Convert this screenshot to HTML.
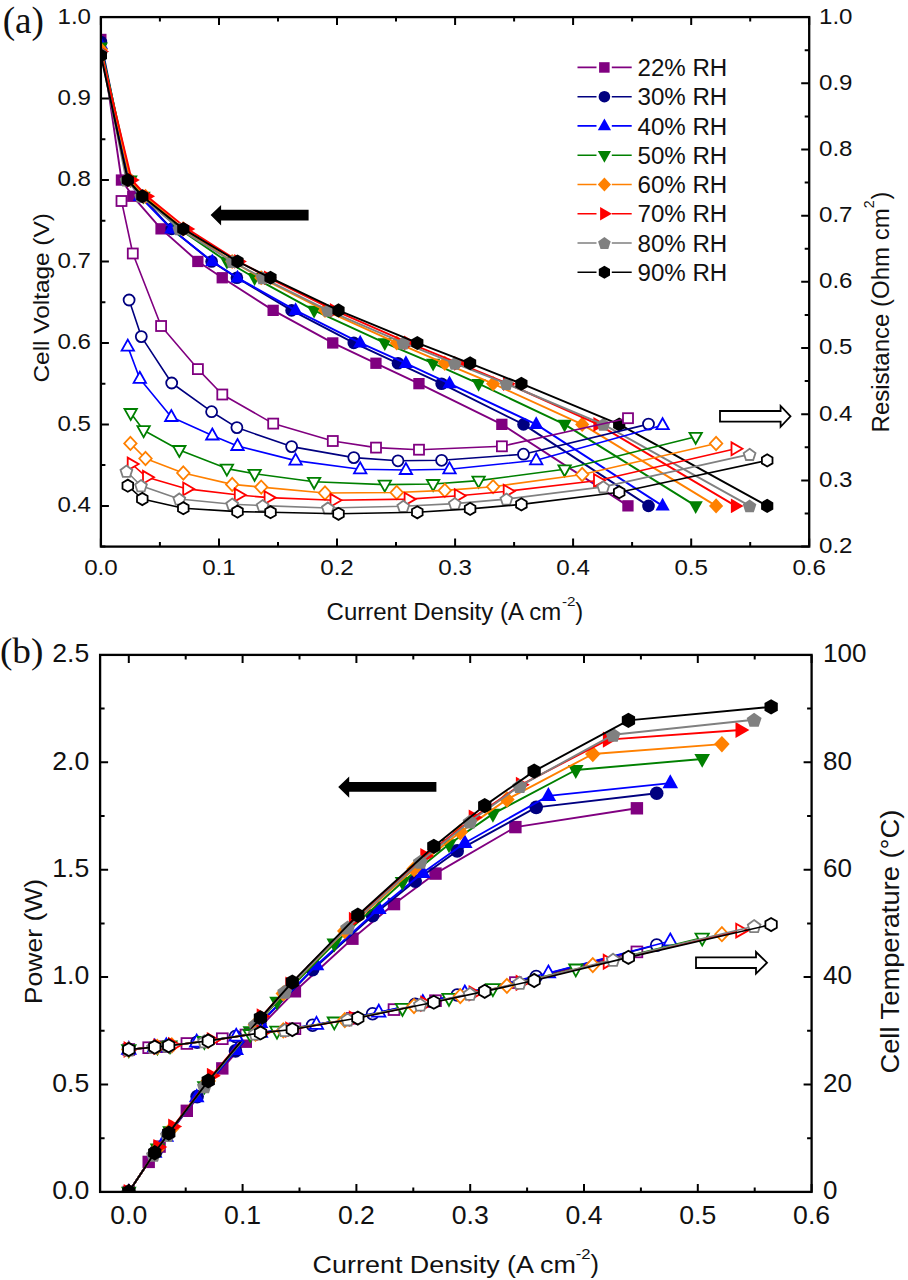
<!DOCTYPE html><html><head><meta charset="utf-8"><style>html,body{margin:0;padding:0;background:#fff;overflow:hidden;}svg{display:block;}text{font-family:"Liberation Sans",sans-serif;fill:#111;}</style></head><body>
<svg width="908" height="1280" viewBox="0 0 908 1280">
<defs><clipPath id="ca"><rect x="100.9" y="17.1" width="708.3" height="529.5"/></clipPath>
<clipPath id="cb"><rect x="100.1" y="654.9" width="711.5" height="537.0"/></clipPath></defs>
<g clip-path="url(#ca)">
<polyline points="100.9,39.5 121.5,180.0 132.8,196.3 161.1,228.9 197.9,261.5 222.3,277.8 273.2,310.4 332.8,342.9 376.0,363.3 419.0,383.7 501.9,424.4 628.0,505.9" fill="none" stroke="#800080" stroke-width="1.9" stroke-linejoin="round"/>
<rect x="95.2" y="33.8" width="11.3" height="11.3" fill="#800080"/>
<rect x="115.8" y="174.4" width="11.3" height="11.3" fill="#800080"/>
<rect x="127.1" y="190.6" width="11.3" height="11.3" fill="#800080"/>
<rect x="155.4" y="223.2" width="11.3" height="11.3" fill="#800080"/>
<rect x="192.2" y="255.8" width="11.3" height="11.3" fill="#800080"/>
<rect x="216.6" y="272.1" width="11.3" height="11.3" fill="#800080"/>
<rect x="267.5" y="304.7" width="11.3" height="11.3" fill="#800080"/>
<rect x="327.1" y="337.3" width="11.3" height="11.3" fill="#800080"/>
<rect x="370.3" y="357.6" width="11.3" height="11.3" fill="#800080"/>
<rect x="413.3" y="378.0" width="11.3" height="11.3" fill="#800080"/>
<rect x="496.2" y="418.7" width="11.3" height="11.3" fill="#800080"/>
<rect x="622.3" y="500.2" width="11.3" height="11.3" fill="#800080"/>
<polyline points="100.9,42.0 129.1,180.0 141.3,196.3 171.7,228.9 211.6,261.5 236.9,277.8 291.6,310.4 353.8,342.9 398.0,363.3 441.6,383.7 523.5,424.4 648.5,505.9" fill="none" stroke="#000080" stroke-width="1.9" stroke-linejoin="round"/>
<circle cx="100.9" cy="42.0" r="6.3" fill="#000080"/>
<circle cx="129.1" cy="180.0" r="6.3" fill="#000080"/>
<circle cx="141.3" cy="196.3" r="6.3" fill="#000080"/>
<circle cx="171.7" cy="228.9" r="6.3" fill="#000080"/>
<circle cx="211.6" cy="261.5" r="6.3" fill="#000080"/>
<circle cx="236.9" cy="277.8" r="6.3" fill="#000080"/>
<circle cx="291.6" cy="310.4" r="6.3" fill="#000080"/>
<circle cx="353.8" cy="342.9" r="6.3" fill="#000080"/>
<circle cx="398.0" cy="363.3" r="6.3" fill="#000080"/>
<circle cx="441.6" cy="383.7" r="6.3" fill="#000080"/>
<circle cx="523.5" cy="424.4" r="6.3" fill="#000080"/>
<circle cx="648.5" cy="505.9" r="6.3" fill="#000080"/>
<polyline points="100.9,44.5 127.8,180.0 139.8,196.3 171.3,228.9 212.3,261.5 237.5,277.8 295.6,310.4 360.2,342.9 405.9,363.3 449.5,383.7 536.2,424.4 662.6,505.9" fill="none" stroke="#0000FF" stroke-width="1.9" stroke-linejoin="round"/>
<polygon points="100.9,36.4 108.0,49.1 93.8,49.1" fill="#0000FF"/>
<polygon points="127.8,171.9 134.9,184.7 120.7,184.7" fill="#0000FF"/>
<polygon points="139.8,188.2 146.9,201.0 132.7,201.0" fill="#0000FF"/>
<polygon points="171.3,220.8 178.4,233.5 164.2,233.5" fill="#0000FF"/>
<polygon points="212.3,253.4 219.4,266.1 205.2,266.1" fill="#0000FF"/>
<polygon points="237.5,269.7 244.6,282.4 230.4,282.4" fill="#0000FF"/>
<polygon points="295.6,302.3 302.7,315.0 288.5,315.0" fill="#0000FF"/>
<polygon points="360.2,334.8 367.3,347.6 353.1,347.6" fill="#0000FF"/>
<polygon points="405.9,355.2 413.0,368.0 398.8,368.0" fill="#0000FF"/>
<polygon points="449.5,375.6 456.6,388.3 442.4,388.3" fill="#0000FF"/>
<polygon points="536.2,416.3 543.3,429.1 529.1,429.1" fill="#0000FF"/>
<polygon points="662.6,497.8 669.7,510.5 655.5,510.5" fill="#0000FF"/>
<polyline points="100.9,47.0 130.7,180.0 143.6,196.3 179.3,228.9 226.9,261.5 254.6,277.8 314.1,310.4 384.8,342.9 433.1,363.3 478.6,383.7 564.6,424.4 695.7,505.9" fill="none" stroke="#008000" stroke-width="1.9" stroke-linejoin="round"/>
<polygon points="100.9,55.1 108.0,42.4 93.8,42.4" fill="#008000"/>
<polygon points="130.7,188.1 137.8,175.4 123.6,175.4" fill="#008000"/>
<polygon points="143.6,204.4 150.7,191.7 136.5,191.7" fill="#008000"/>
<polygon points="179.3,237.0 186.4,224.3 172.2,224.3" fill="#008000"/>
<polygon points="226.9,269.6 234.0,256.8 219.8,256.8" fill="#008000"/>
<polygon points="254.6,285.9 261.7,273.1 247.5,273.1" fill="#008000"/>
<polygon points="314.1,318.5 321.2,305.7 307.0,305.7" fill="#008000"/>
<polygon points="384.8,351.0 391.9,338.3 377.7,338.3" fill="#008000"/>
<polygon points="433.1,371.4 440.2,358.7 426.0,358.7" fill="#008000"/>
<polygon points="478.6,391.8 485.7,379.0 471.5,379.0" fill="#008000"/>
<polygon points="564.6,432.5 571.7,419.8 557.5,419.8" fill="#008000"/>
<polygon points="695.7,514.0 702.8,501.2 688.6,501.2" fill="#008000"/>
<polyline points="100.9,49.5 130.4,180.0 145.5,196.3 183.3,228.9 232.2,261.5 261.2,277.8 325.0,310.4 396.7,342.9 444.8,363.3 493.1,383.7 582.2,424.4 716.1,505.9" fill="none" stroke="#FF8000" stroke-width="1.9" stroke-linejoin="round"/>
<polygon points="100.9,41.9 108.0,49.5 100.9,57.1 93.8,49.5" fill="#FF8000"/>
<polygon points="130.4,172.5 137.5,180.0 130.4,187.6 123.3,180.0" fill="#FF8000"/>
<polygon points="145.5,188.8 152.6,196.3 145.5,203.9 138.4,196.3" fill="#FF8000"/>
<polygon points="183.3,221.3 190.4,228.9 183.3,236.5 176.2,228.9" fill="#FF8000"/>
<polygon points="232.2,253.9 239.3,261.5 232.2,269.0 225.1,261.5" fill="#FF8000"/>
<polygon points="261.2,270.2 268.3,277.8 261.2,285.3 254.1,277.8" fill="#FF8000"/>
<polygon points="325.0,302.8 332.1,310.4 325.0,317.9 317.9,310.4" fill="#FF8000"/>
<polygon points="396.7,335.4 403.8,342.9 396.7,350.5 389.6,342.9" fill="#FF8000"/>
<polygon points="444.8,355.8 451.9,363.3 444.8,370.9 437.7,363.3" fill="#FF8000"/>
<polygon points="493.1,376.1 500.2,383.7 493.1,391.2 486.0,383.7" fill="#FF8000"/>
<polygon points="582.2,416.8 589.3,424.4 582.2,432.0 575.1,424.4" fill="#FF8000"/>
<polygon points="716.1,498.3 723.2,505.9 716.1,513.4 709.0,505.9" fill="#FF8000"/>
<polyline points="100.9,51.5 131.7,180.0 147.0,196.3 187.2,228.9 238.8,261.5 268.6,277.8 334.5,310.4 408.6,342.9 458.8,363.3 507.7,383.7 598.0,424.4 735.5,505.9" fill="none" stroke="#FF0000" stroke-width="1.9" stroke-linejoin="round"/>
<polygon points="109.0,51.5 96.3,58.8 96.3,44.2" fill="#FF0000"/>
<polygon points="139.8,180.0 127.1,187.4 127.1,172.7" fill="#FF0000"/>
<polygon points="155.1,196.3 142.4,203.7 142.4,189.0" fill="#FF0000"/>
<polygon points="195.3,228.9 182.6,236.2 182.6,221.6" fill="#FF0000"/>
<polygon points="246.9,261.5 234.2,268.8 234.2,254.1" fill="#FF0000"/>
<polygon points="276.7,277.8 264.0,285.1 264.0,270.4" fill="#FF0000"/>
<polygon points="342.6,310.4 329.9,317.7 329.9,303.0" fill="#FF0000"/>
<polygon points="416.7,342.9 404.0,350.3 404.0,335.6" fill="#FF0000"/>
<polygon points="466.9,363.3 454.2,370.7 454.2,356.0" fill="#FF0000"/>
<polygon points="515.8,383.7 503.1,391.0 503.1,376.3" fill="#FF0000"/>
<polygon points="606.1,424.4 593.4,431.8 593.4,417.1" fill="#FF0000"/>
<polygon points="743.6,505.9 730.9,513.2 730.9,498.5" fill="#FF0000"/>
<polyline points="100.9,53.5 126.4,180.0 141.0,196.3 179.3,228.9 232.2,261.5 262.6,277.8 327.9,310.4 403.3,342.9 454.8,363.3 506.4,383.7 603.3,424.4 749.6,505.9" fill="none" stroke="#808080" stroke-width="1.9" stroke-linejoin="round"/>
<polygon points="100.9,47.0 107.7,51.9 105.1,59.9 96.7,59.9 94.1,51.9" fill="#808080"/>
<polygon points="126.4,173.5 133.2,178.5 130.6,186.4 122.2,186.4 119.6,178.5" fill="#808080"/>
<polygon points="141.0,189.8 147.8,194.8 145.2,202.7 136.8,202.7 134.2,194.8" fill="#808080"/>
<polygon points="179.3,222.4 186.1,227.3 183.5,235.3 175.1,235.3 172.5,227.3" fill="#808080"/>
<polygon points="232.2,255.0 239.0,259.9 236.4,267.9 228.0,267.9 225.4,259.9" fill="#808080"/>
<polygon points="262.6,271.3 269.4,276.2 266.8,284.2 258.4,284.2 255.8,276.2" fill="#808080"/>
<polygon points="327.9,303.9 334.7,308.8 332.1,316.8 323.7,316.8 321.1,308.8" fill="#808080"/>
<polygon points="403.3,336.5 410.1,341.4 407.5,349.4 399.1,349.4 396.5,341.4" fill="#808080"/>
<polygon points="454.8,356.8 461.6,361.8 459.0,369.7 450.6,369.7 448.0,361.8" fill="#808080"/>
<polygon points="506.4,377.2 513.2,382.1 510.6,390.1 502.2,390.1 499.6,382.1" fill="#808080"/>
<polygon points="603.3,417.9 610.1,422.9 607.5,430.8 599.1,430.8 596.5,422.9" fill="#808080"/>
<polygon points="749.6,499.4 756.4,504.3 753.8,512.3 745.4,512.3 742.8,504.3" fill="#808080"/>
<polyline points="100.9,55.5 127.8,180.0 142.3,196.3 183.3,228.9 237.5,261.5 270.5,277.8 338.5,310.4 417.3,342.9 470.1,363.3 521.4,383.7 619.2,424.4 767.2,505.9" fill="none" stroke="#000000" stroke-width="1.9" stroke-linejoin="round"/>
<polygon points="100.9,48.5 107.0,52.0 107.0,59.0 100.9,62.5 94.8,59.0 94.8,52.0" fill="#000000"/>
<polygon points="127.8,173.0 133.9,176.5 133.9,183.5 127.8,187.0 121.7,183.5 121.7,176.5" fill="#000000"/>
<polygon points="142.3,189.3 148.4,192.8 148.4,199.8 142.3,203.3 136.2,199.8 136.2,192.8" fill="#000000"/>
<polygon points="183.3,221.9 189.4,225.4 189.4,232.4 183.3,235.9 177.2,232.4 177.2,225.4" fill="#000000"/>
<polygon points="237.5,254.5 243.6,258.0 243.6,265.0 237.5,268.5 231.4,265.0 231.4,258.0" fill="#000000"/>
<polygon points="270.5,270.8 276.6,274.3 276.6,281.3 270.5,284.8 264.4,281.3 264.4,274.3" fill="#000000"/>
<polygon points="338.5,303.3 344.6,306.9 344.6,313.9 338.5,317.4 332.4,313.9 332.4,306.9" fill="#000000"/>
<polygon points="417.3,335.9 423.4,339.4 423.4,346.5 417.3,350.0 411.2,346.5 411.2,339.4" fill="#000000"/>
<polygon points="470.1,356.3 476.2,359.8 476.2,366.8 470.1,370.3 464.0,366.8 464.0,359.8" fill="#000000"/>
<polygon points="521.4,376.7 527.5,380.2 527.5,387.2 521.4,390.7 515.3,387.2 515.3,380.2" fill="#000000"/>
<polygon points="619.2,417.4 625.3,420.9 625.3,427.9 619.2,431.4 613.1,427.9 613.1,420.9" fill="#000000"/>
<polygon points="767.2,498.8 773.3,502.4 773.3,509.4 767.2,512.9 761.1,509.4 761.1,502.4" fill="#000000"/>
<polyline points="121.5,201.0 132.8,253.5 161.1,326.0 197.9,369.1 222.3,394.5 273.2,423.6 332.8,441.0 376.0,447.6 419.0,449.7 501.9,446.3 628.0,418.2" fill="none" stroke="#800080" stroke-width="1.6" stroke-linejoin="round"/>
<rect x="116.5" y="196.0" width="10.0" height="10.0" fill="#fff" stroke="#800080" stroke-width="1.8"/>
<rect x="127.8" y="248.5" width="10.0" height="10.0" fill="#fff" stroke="#800080" stroke-width="1.8"/>
<rect x="156.1" y="321.0" width="10.0" height="10.0" fill="#fff" stroke="#800080" stroke-width="1.8"/>
<rect x="192.9" y="364.1" width="10.0" height="10.0" fill="#fff" stroke="#800080" stroke-width="1.8"/>
<rect x="217.3" y="389.5" width="10.0" height="10.0" fill="#fff" stroke="#800080" stroke-width="1.8"/>
<rect x="268.2" y="418.6" width="10.0" height="10.0" fill="#fff" stroke="#800080" stroke-width="1.8"/>
<rect x="327.8" y="436.0" width="10.0" height="10.0" fill="#fff" stroke="#800080" stroke-width="1.8"/>
<rect x="371.0" y="442.6" width="10.0" height="10.0" fill="#fff" stroke="#800080" stroke-width="1.8"/>
<rect x="414.0" y="444.7" width="10.0" height="10.0" fill="#fff" stroke="#800080" stroke-width="1.8"/>
<rect x="496.9" y="441.3" width="10.0" height="10.0" fill="#fff" stroke="#800080" stroke-width="1.8"/>
<rect x="623.0" y="413.2" width="10.0" height="10.0" fill="#fff" stroke="#800080" stroke-width="1.8"/>
<polyline points="129.1,300.0 141.3,336.6 171.7,383.0 211.6,411.7 236.9,427.6 291.6,446.6 353.8,457.6 398.0,460.8 441.6,460.3 523.5,454.2 648.5,424.1" fill="none" stroke="#000080" stroke-width="1.6" stroke-linejoin="round"/>
<circle cx="129.1" cy="300.0" r="5.5" fill="#fff" stroke="#000080" stroke-width="1.8"/>
<circle cx="141.3" cy="336.6" r="5.5" fill="#fff" stroke="#000080" stroke-width="1.8"/>
<circle cx="171.7" cy="383.0" r="5.5" fill="#fff" stroke="#000080" stroke-width="1.8"/>
<circle cx="211.6" cy="411.7" r="5.5" fill="#fff" stroke="#000080" stroke-width="1.8"/>
<circle cx="236.9" cy="427.6" r="5.5" fill="#fff" stroke="#000080" stroke-width="1.8"/>
<circle cx="291.6" cy="446.6" r="5.5" fill="#fff" stroke="#000080" stroke-width="1.8"/>
<circle cx="353.8" cy="457.6" r="5.5" fill="#fff" stroke="#000080" stroke-width="1.8"/>
<circle cx="398.0" cy="460.8" r="5.5" fill="#fff" stroke="#000080" stroke-width="1.8"/>
<circle cx="441.6" cy="460.3" r="5.5" fill="#fff" stroke="#000080" stroke-width="1.8"/>
<circle cx="523.5" cy="454.2" r="5.5" fill="#fff" stroke="#000080" stroke-width="1.8"/>
<circle cx="648.5" cy="424.1" r="5.5" fill="#fff" stroke="#000080" stroke-width="1.8"/>
<polyline points="127.8,346.6 139.8,378.8 171.3,417.0 212.3,435.5 237.5,446.0 295.6,460.6 360.2,469.3 405.9,470.0 449.5,469.3 536.2,460.3 662.6,425.2" fill="none" stroke="#0000FF" stroke-width="1.6" stroke-linejoin="round"/>
<polygon points="127.8,339.6 134.0,350.6 121.6,350.6" fill="#fff" stroke="#0000FF" stroke-width="1.8"/>
<polygon points="139.8,371.8 146.0,382.8 133.6,382.8" fill="#fff" stroke="#0000FF" stroke-width="1.8"/>
<polygon points="171.3,410.0 177.5,421.0 165.1,421.0" fill="#fff" stroke="#0000FF" stroke-width="1.8"/>
<polygon points="212.3,428.5 218.5,439.5 206.1,439.5" fill="#fff" stroke="#0000FF" stroke-width="1.8"/>
<polygon points="237.5,439.0 243.7,450.0 231.3,450.0" fill="#fff" stroke="#0000FF" stroke-width="1.8"/>
<polygon points="295.6,453.6 301.8,464.6 289.4,464.6" fill="#fff" stroke="#0000FF" stroke-width="1.8"/>
<polygon points="360.2,462.3 366.4,473.3 354.0,473.3" fill="#fff" stroke="#0000FF" stroke-width="1.8"/>
<polygon points="405.9,463.0 412.1,474.0 399.7,474.0" fill="#fff" stroke="#0000FF" stroke-width="1.8"/>
<polygon points="449.5,462.3 455.7,473.3 443.3,473.3" fill="#fff" stroke="#0000FF" stroke-width="1.8"/>
<polygon points="536.2,453.3 542.4,464.3 530.0,464.3" fill="#fff" stroke="#0000FF" stroke-width="1.8"/>
<polygon points="662.6,418.2 668.8,429.2 656.4,429.2" fill="#fff" stroke="#0000FF" stroke-width="1.8"/>
<polyline points="130.7,413.0 143.6,430.2 179.3,450.0 226.9,468.6 254.6,473.8 314.1,481.8 384.8,484.6 433.1,484.0 478.6,480.6 564.6,469.3 695.7,436.8" fill="none" stroke="#008000" stroke-width="1.6" stroke-linejoin="round"/>
<polygon points="130.7,420.0 136.9,409.0 124.5,409.0" fill="#fff" stroke="#008000" stroke-width="1.8"/>
<polygon points="143.6,437.2 149.8,426.2 137.4,426.2" fill="#fff" stroke="#008000" stroke-width="1.8"/>
<polygon points="179.3,457.0 185.5,446.0 173.1,446.0" fill="#fff" stroke="#008000" stroke-width="1.8"/>
<polygon points="226.9,475.6 233.1,464.6 220.7,464.6" fill="#fff" stroke="#008000" stroke-width="1.8"/>
<polygon points="254.6,480.8 260.8,469.8 248.4,469.8" fill="#fff" stroke="#008000" stroke-width="1.8"/>
<polygon points="314.1,488.8 320.3,477.8 307.9,477.8" fill="#fff" stroke="#008000" stroke-width="1.8"/>
<polygon points="384.8,491.6 391.0,480.6 378.6,480.6" fill="#fff" stroke="#008000" stroke-width="1.8"/>
<polygon points="433.1,491.0 439.3,480.0 426.9,480.0" fill="#fff" stroke="#008000" stroke-width="1.8"/>
<polygon points="478.6,487.6 484.8,476.6 472.4,476.6" fill="#fff" stroke="#008000" stroke-width="1.8"/>
<polygon points="564.6,476.3 570.8,465.3 558.4,465.3" fill="#fff" stroke="#008000" stroke-width="1.8"/>
<polygon points="695.7,443.8 701.9,432.8 689.5,432.8" fill="#fff" stroke="#008000" stroke-width="1.8"/>
<polyline points="130.4,443.4 145.5,458.5 183.3,473.0 232.2,484.4 261.2,487.1 325.0,493.0 396.7,492.5 444.8,490.4 493.1,486.7 582.2,474.5 716.1,443.5" fill="none" stroke="#FF8000" stroke-width="1.6" stroke-linejoin="round"/>
<polygon points="130.4,436.8 136.6,443.4 130.4,450.0 124.2,443.4" fill="#fff" stroke="#FF8000" stroke-width="1.8"/>
<polygon points="145.5,451.9 151.7,458.5 145.5,465.1 139.3,458.5" fill="#fff" stroke="#FF8000" stroke-width="1.8"/>
<polygon points="183.3,466.4 189.5,473.0 183.3,479.6 177.1,473.0" fill="#fff" stroke="#FF8000" stroke-width="1.8"/>
<polygon points="232.2,477.8 238.4,484.4 232.2,491.0 226.0,484.4" fill="#fff" stroke="#FF8000" stroke-width="1.8"/>
<polygon points="261.2,480.5 267.4,487.1 261.2,493.7 255.0,487.1" fill="#fff" stroke="#FF8000" stroke-width="1.8"/>
<polygon points="325.0,486.4 331.2,493.0 325.0,499.6 318.8,493.0" fill="#fff" stroke="#FF8000" stroke-width="1.8"/>
<polygon points="396.7,485.9 402.9,492.5 396.7,499.1 390.5,492.5" fill="#fff" stroke="#FF8000" stroke-width="1.8"/>
<polygon points="444.8,483.8 451.0,490.4 444.8,497.0 438.6,490.4" fill="#fff" stroke="#FF8000" stroke-width="1.8"/>
<polygon points="493.1,480.1 499.3,486.7 493.1,493.3 486.9,486.7" fill="#fff" stroke="#FF8000" stroke-width="1.8"/>
<polygon points="582.2,467.9 588.4,474.5 582.2,481.1 576.0,474.5" fill="#fff" stroke="#FF8000" stroke-width="1.8"/>
<polygon points="716.1,436.9 722.3,443.5 716.1,450.1 709.9,443.5" fill="#fff" stroke="#FF8000" stroke-width="1.8"/>
<polyline points="131.7,464.0 147.0,477.3 187.2,488.9 238.8,495.0 268.6,497.6 334.5,500.3 408.6,499.1 458.8,495.7 507.7,491.2 598.0,480.5 735.5,448.8" fill="none" stroke="#FF0000" stroke-width="1.6" stroke-linejoin="round"/>
<polygon points="138.7,464.0 127.7,470.4 127.7,457.6" fill="#fff" stroke="#FF0000" stroke-width="1.8"/>
<polygon points="154.0,477.3 143.0,483.7 143.0,470.9" fill="#fff" stroke="#FF0000" stroke-width="1.8"/>
<polygon points="194.2,488.9 183.2,495.3 183.2,482.5" fill="#fff" stroke="#FF0000" stroke-width="1.8"/>
<polygon points="245.8,495.0 234.8,501.4 234.8,488.6" fill="#fff" stroke="#FF0000" stroke-width="1.8"/>
<polygon points="275.6,497.6 264.6,504.0 264.6,491.2" fill="#fff" stroke="#FF0000" stroke-width="1.8"/>
<polygon points="341.5,500.3 330.5,506.7 330.5,493.9" fill="#fff" stroke="#FF0000" stroke-width="1.8"/>
<polygon points="415.6,499.1 404.6,505.5 404.6,492.7" fill="#fff" stroke="#FF0000" stroke-width="1.8"/>
<polygon points="465.8,495.7 454.8,502.1 454.8,489.3" fill="#fff" stroke="#FF0000" stroke-width="1.8"/>
<polygon points="514.7,491.2 503.7,497.6 503.7,484.8" fill="#fff" stroke="#FF0000" stroke-width="1.8"/>
<polygon points="605.0,480.5 594.0,486.9 594.0,474.1" fill="#fff" stroke="#FF0000" stroke-width="1.8"/>
<polygon points="742.5,448.8 731.5,455.2 731.5,442.4" fill="#fff" stroke="#FF0000" stroke-width="1.8"/>
<polyline points="126.4,471.2 141.0,485.7 179.3,499.0 232.2,504.2 262.6,505.6 327.9,508.0 403.3,506.3 454.8,503.6 506.4,499.1 603.3,486.9 749.6,454.4" fill="none" stroke="#808080" stroke-width="1.6" stroke-linejoin="round"/>
<polygon points="126.4,465.6 132.3,469.9 130.0,476.8 122.8,476.8 120.5,469.9" fill="#fff" stroke="#808080" stroke-width="1.8"/>
<polygon points="141.0,480.1 146.9,484.4 144.6,491.3 137.4,491.3 135.1,484.4" fill="#fff" stroke="#808080" stroke-width="1.8"/>
<polygon points="179.3,493.4 185.2,497.7 182.9,504.6 175.7,504.6 173.4,497.7" fill="#fff" stroke="#808080" stroke-width="1.8"/>
<polygon points="232.2,498.6 238.1,502.9 235.8,509.8 228.6,509.8 226.3,502.9" fill="#fff" stroke="#808080" stroke-width="1.8"/>
<polygon points="262.6,500.0 268.5,504.3 266.2,511.2 259.0,511.2 256.7,504.3" fill="#fff" stroke="#808080" stroke-width="1.8"/>
<polygon points="327.9,502.4 333.8,506.7 331.5,513.6 324.3,513.6 322.0,506.7" fill="#fff" stroke="#808080" stroke-width="1.8"/>
<polygon points="403.3,500.7 409.2,505.0 406.9,511.9 399.7,511.9 397.4,505.0" fill="#fff" stroke="#808080" stroke-width="1.8"/>
<polygon points="454.8,498.0 460.7,502.3 458.4,509.2 451.2,509.2 448.9,502.3" fill="#fff" stroke="#808080" stroke-width="1.8"/>
<polygon points="506.4,493.5 512.3,497.8 510.0,504.7 502.8,504.7 500.5,497.8" fill="#fff" stroke="#808080" stroke-width="1.8"/>
<polygon points="603.3,481.3 609.2,485.6 606.9,492.5 599.7,492.5 597.4,485.6" fill="#fff" stroke="#808080" stroke-width="1.8"/>
<polygon points="749.6,448.8 755.5,453.1 753.2,460.0 746.0,460.0 743.7,453.1" fill="#fff" stroke="#808080" stroke-width="1.8"/>
<polyline points="127.8,485.7 142.3,499.0 183.3,508.2 237.5,511.6 270.5,512.2 338.5,513.8 417.3,512.3 470.1,508.9 521.4,504.4 619.2,492.2 767.2,460.4" fill="none" stroke="#000000" stroke-width="1.6" stroke-linejoin="round"/>
<polygon points="127.8,479.6 133.1,482.7 133.1,488.7 127.8,491.8 122.5,488.7 122.5,482.7" fill="#fff" stroke="#000000" stroke-width="1.8"/>
<polygon points="142.3,492.9 147.6,496.0 147.6,502.0 142.3,505.1 137.0,502.0 137.0,496.0" fill="#fff" stroke="#000000" stroke-width="1.8"/>
<polygon points="183.3,502.1 188.6,505.2 188.6,511.2 183.3,514.3 178.0,511.2 178.0,505.2" fill="#fff" stroke="#000000" stroke-width="1.8"/>
<polygon points="237.5,505.5 242.8,508.6 242.8,514.6 237.5,517.7 232.2,514.6 232.2,508.6" fill="#fff" stroke="#000000" stroke-width="1.8"/>
<polygon points="270.5,506.1 275.8,509.2 275.8,515.2 270.5,518.3 265.2,515.2 265.2,509.2" fill="#fff" stroke="#000000" stroke-width="1.8"/>
<polygon points="338.5,507.7 343.8,510.8 343.8,516.8 338.5,519.9 333.2,516.8 333.2,510.8" fill="#fff" stroke="#000000" stroke-width="1.8"/>
<polygon points="417.3,506.2 422.6,509.3 422.6,515.3 417.3,518.4 412.0,515.3 412.0,509.3" fill="#fff" stroke="#000000" stroke-width="1.8"/>
<polygon points="470.1,502.8 475.4,505.9 475.4,511.9 470.1,515.0 464.8,511.9 464.8,505.9" fill="#fff" stroke="#000000" stroke-width="1.8"/>
<polygon points="521.4,498.3 526.7,501.4 526.7,507.4 521.4,510.5 516.1,507.4 516.1,501.4" fill="#fff" stroke="#000000" stroke-width="1.8"/>
<polygon points="619.2,486.1 624.5,489.2 624.5,495.2 619.2,498.3 613.9,495.2 613.9,489.2" fill="#fff" stroke="#000000" stroke-width="1.8"/>
<polygon points="767.2,454.3 772.5,457.4 772.5,463.4 767.2,466.5 761.9,463.4 761.9,457.4" fill="#fff" stroke="#000000" stroke-width="1.8"/>
</g>
<g clip-path="url(#cb)">
<polyline points="128.8,1191.9 148.7,1161.9 159.6,1146.6 186.8,1110.8 222.3,1068.4 245.8,1041.7 294.9,991.3 352.4,938.7 394.0,904.1 435.4,873.6 515.4,827.1 636.9,808.3" fill="none" stroke="#800080" stroke-width="1.9" stroke-linejoin="round"/>
<rect x="122.6" y="1185.7" width="12.4" height="12.4" fill="#800080"/>
<rect x="142.5" y="1155.7" width="12.4" height="12.4" fill="#800080"/>
<rect x="153.4" y="1140.4" width="12.4" height="12.4" fill="#800080"/>
<rect x="180.6" y="1104.6" width="12.4" height="12.4" fill="#800080"/>
<rect x="216.1" y="1062.2" width="12.4" height="12.4" fill="#800080"/>
<rect x="239.6" y="1035.5" width="12.4" height="12.4" fill="#800080"/>
<rect x="288.7" y="985.1" width="12.4" height="12.4" fill="#800080"/>
<rect x="346.2" y="932.5" width="12.4" height="12.4" fill="#800080"/>
<rect x="387.8" y="897.9" width="12.4" height="12.4" fill="#800080"/>
<rect x="429.3" y="867.4" width="12.4" height="12.4" fill="#800080"/>
<rect x="509.2" y="820.9" width="12.4" height="12.4" fill="#800080"/>
<rect x="630.7" y="802.1" width="12.4" height="12.4" fill="#800080"/>
<polyline points="128.8,1191.9 156.0,1150.9 167.7,1134.6 197.1,1096.6 235.5,1050.9 259.9,1023.6 312.6,969.8 372.6,915.8 415.2,881.1 457.2,850.9 536.2,807.4 656.7,793.3" fill="none" stroke="#000080" stroke-width="1.9" stroke-linejoin="round"/>
<circle cx="128.8" cy="1191.9" r="6.8" fill="#000080"/>
<circle cx="156.0" cy="1150.9" r="6.8" fill="#000080"/>
<circle cx="167.7" cy="1134.6" r="6.8" fill="#000080"/>
<circle cx="197.1" cy="1096.6" r="6.8" fill="#000080"/>
<circle cx="235.5" cy="1050.9" r="6.8" fill="#000080"/>
<circle cx="259.9" cy="1023.6" r="6.8" fill="#000080"/>
<circle cx="312.6" cy="969.8" r="6.8" fill="#000080"/>
<circle cx="372.6" cy="915.8" r="6.8" fill="#000080"/>
<circle cx="415.2" cy="881.1" r="6.8" fill="#000080"/>
<circle cx="457.2" cy="850.9" r="6.8" fill="#000080"/>
<circle cx="536.2" cy="807.4" r="6.8" fill="#000080"/>
<circle cx="656.7" cy="793.3" r="6.8" fill="#000080"/>
<polyline points="128.8,1191.9 154.7,1152.7 166.3,1136.7 196.7,1097.1 236.2,1050.0 260.5,1022.9 316.5,965.2 378.8,908.8 422.8,872.8 464.8,843.0 548.4,795.9 670.3,783.1" fill="none" stroke="#0000FF" stroke-width="1.9" stroke-linejoin="round"/>
<polygon points="128.8,1183.1 136.6,1197.0 121.0,1197.0" fill="#0000FF"/>
<polygon points="154.7,1143.9 162.5,1157.8 146.9,1157.8" fill="#0000FF"/>
<polygon points="166.3,1127.8 174.1,1141.8 158.5,1141.8" fill="#0000FF"/>
<polygon points="196.7,1088.3 204.5,1102.2 188.9,1102.2" fill="#0000FF"/>
<polygon points="236.2,1041.2 244.0,1055.1 228.4,1055.1" fill="#0000FF"/>
<polygon points="260.5,1014.0 268.3,1028.0 252.7,1028.0" fill="#0000FF"/>
<polygon points="316.5,956.3 324.3,970.2 308.7,970.2" fill="#0000FF"/>
<polygon points="378.8,900.0 386.6,913.9 371.0,913.9" fill="#0000FF"/>
<polygon points="422.8,863.9 430.6,877.9 415.0,877.9" fill="#0000FF"/>
<polygon points="464.8,834.2 472.6,848.1 457.1,848.1" fill="#0000FF"/>
<polygon points="548.4,787.0 556.2,800.9 540.6,800.9" fill="#0000FF"/>
<polygon points="670.3,774.2 678.1,788.2 662.5,788.2" fill="#0000FF"/>
<polyline points="128.8,1191.9 157.5,1148.5 170.0,1131.3 204.4,1086.3 250.3,1031.4 277.0,1001.7 334.3,943.6 402.5,882.0 449.0,844.3 492.9,813.9 575.8,770.0 702.2,759.0" fill="none" stroke="#008000" stroke-width="1.9" stroke-linejoin="round"/>
<polygon points="128.8,1200.8 136.6,1186.8 121.0,1186.8" fill="#008000"/>
<polygon points="157.5,1157.4 165.3,1143.4 149.7,1143.4" fill="#008000"/>
<polygon points="170.0,1140.1 177.8,1126.2 162.2,1126.2" fill="#008000"/>
<polygon points="204.4,1095.2 212.2,1081.3 196.6,1081.3" fill="#008000"/>
<polygon points="250.3,1040.3 258.1,1026.3 242.5,1026.3" fill="#008000"/>
<polygon points="277.0,1010.6 284.8,996.7 269.2,996.7" fill="#008000"/>
<polygon points="334.3,952.5 342.1,938.5 326.5,938.5" fill="#008000"/>
<polygon points="402.5,890.8 410.3,876.9 394.7,876.9" fill="#008000"/>
<polygon points="449.0,853.2 456.8,839.3 441.3,839.3" fill="#008000"/>
<polygon points="492.9,822.8 500.7,808.8 485.1,808.8" fill="#008000"/>
<polygon points="575.8,778.9 583.6,765.0 568.0,765.0" fill="#008000"/>
<polygon points="702.2,767.8 710.0,753.9 694.4,753.9" fill="#008000"/>
<polyline points="128.8,1191.9 157.2,1149.0 171.8,1128.6 208.2,1081.0 255.4,1024.7 283.3,993.6 344.8,930.9 414.0,869.0 460.3,832.1 506.9,799.4 592.8,754.0 721.9,744.1" fill="none" stroke="#FF8000" stroke-width="1.9" stroke-linejoin="round"/>
<polygon points="128.8,1183.6 136.6,1191.9 128.8,1200.2 121.0,1191.9" fill="#FF8000"/>
<polygon points="157.2,1140.7 165.0,1149.0 157.2,1157.2 149.4,1149.0" fill="#FF8000"/>
<polygon points="171.8,1120.3 179.6,1128.6 171.8,1136.9 164.0,1128.6" fill="#FF8000"/>
<polygon points="208.2,1072.7 216.0,1081.0 208.2,1089.2 200.4,1081.0" fill="#FF8000"/>
<polygon points="255.4,1016.4 263.2,1024.7 255.4,1032.9 247.6,1024.7" fill="#FF8000"/>
<polygon points="283.3,985.3 291.1,993.6 283.3,1001.8 275.5,993.6" fill="#FF8000"/>
<polygon points="344.8,922.7 352.6,930.9 344.8,939.2 337.0,930.9" fill="#FF8000"/>
<polygon points="414.0,860.7 421.7,869.0 414.0,877.2 406.2,869.0" fill="#FF8000"/>
<polygon points="460.3,823.8 468.1,832.1 460.3,840.4 452.5,832.1" fill="#FF8000"/>
<polygon points="506.9,791.1 514.7,799.4 506.9,807.7 499.1,799.4" fill="#FF8000"/>
<polygon points="592.8,745.8 600.6,754.0 592.8,762.3 585.0,754.0" fill="#FF8000"/>
<polygon points="721.9,735.9 729.6,744.1 721.9,752.4 714.1,744.1" fill="#FF8000"/>
<polyline points="128.8,1191.9 158.5,1147.1 173.2,1126.5 212.0,1075.7 261.7,1016.3 290.5,984.4 354.0,919.9 425.4,856.0 473.8,817.4 521.0,784.8 608.0,739.6 740.6,730.0" fill="none" stroke="#FF0000" stroke-width="1.9" stroke-linejoin="round"/>
<polygon points="137.7,1191.9 123.7,1199.9 123.7,1183.9" fill="#FF0000"/>
<polygon points="167.3,1147.1 153.4,1155.1 153.4,1139.0" fill="#FF0000"/>
<polygon points="182.1,1126.5 168.2,1134.5 168.2,1118.4" fill="#FF0000"/>
<polygon points="220.8,1075.7 206.9,1083.7 206.9,1067.7" fill="#FF0000"/>
<polygon points="270.6,1016.3 256.7,1024.3 256.7,1008.2" fill="#FF0000"/>
<polygon points="299.3,984.4 285.4,992.4 285.4,976.4" fill="#FF0000"/>
<polygon points="362.8,919.9 348.9,927.9 348.9,911.8" fill="#FF0000"/>
<polygon points="434.3,856.0 420.3,864.0 420.3,847.9" fill="#FF0000"/>
<polygon points="482.7,817.4 468.7,825.5 468.7,809.4" fill="#FF0000"/>
<polygon points="529.8,784.8 515.9,792.8 515.9,776.8" fill="#FF0000"/>
<polygon points="616.9,739.6 602.9,747.7 602.9,731.6" fill="#FF0000"/>
<polygon points="749.4,730.0 735.5,738.0 735.5,722.0" fill="#FF0000"/>
<polyline points="128.8,1191.9 153.4,1154.8 167.5,1135.0 204.4,1086.3 255.4,1024.7 284.7,991.8 347.6,927.6 420.3,861.8 470.0,821.6 519.7,786.1 613.1,734.8 754.1,719.8" fill="none" stroke="#808080" stroke-width="1.9" stroke-linejoin="round"/>
<polygon points="128.8,1184.8 136.2,1190.2 133.4,1198.9 124.2,1198.9 121.4,1190.2" fill="#808080"/>
<polygon points="153.4,1147.7 160.8,1153.1 158.0,1161.8 148.8,1161.8 146.0,1153.1" fill="#808080"/>
<polygon points="167.5,1127.9 174.9,1133.3 172.0,1142.0 162.9,1142.0 160.0,1133.3" fill="#808080"/>
<polygon points="204.4,1079.3 211.8,1084.6 209.0,1093.3 199.8,1093.3 197.0,1084.6" fill="#808080"/>
<polygon points="255.4,1017.6 262.8,1023.0 260.0,1031.7 250.8,1031.7 248.0,1023.0" fill="#808080"/>
<polygon points="284.7,984.7 292.1,990.1 289.3,998.8 280.1,998.8 277.3,990.1" fill="#808080"/>
<polygon points="347.6,920.5 355.0,925.9 352.2,934.6 343.0,934.6 340.2,925.9" fill="#808080"/>
<polygon points="420.3,854.7 427.7,860.1 424.9,868.8 415.7,868.8 412.9,860.1" fill="#808080"/>
<polygon points="470.0,814.6 477.4,819.9 474.5,828.6 465.4,828.6 462.6,819.9" fill="#808080"/>
<polygon points="519.7,779.0 527.1,784.4 524.3,793.1 515.1,793.1 512.3,784.4" fill="#808080"/>
<polygon points="613.1,727.7 620.5,733.1 617.7,741.8 608.5,741.8 605.7,733.1" fill="#808080"/>
<polygon points="754.1,712.7 761.6,718.1 758.7,726.8 749.6,726.8 746.7,718.1" fill="#808080"/>
<polyline points="128.8,1191.9 154.7,1152.7 168.7,1133.1 208.2,1081.0 260.5,1017.9 292.3,982.1 357.8,915.2 433.8,846.5 484.7,805.6 534.2,771.1 628.4,720.4 771.1,706.9" fill="none" stroke="#000000" stroke-width="1.9" stroke-linejoin="round"/>
<polygon points="128.8,1184.2 135.4,1188.1 135.4,1195.7 128.8,1199.6 122.2,1195.7 122.2,1188.1" fill="#000000"/>
<polygon points="154.7,1145.1 161.4,1148.9 161.4,1156.6 154.7,1160.4 148.1,1156.6 148.1,1148.9" fill="#000000"/>
<polygon points="168.7,1125.5 175.4,1129.3 175.4,1137.0 168.7,1140.8 162.1,1137.0 162.1,1129.3" fill="#000000"/>
<polygon points="208.2,1073.3 214.9,1077.1 214.9,1084.8 208.2,1088.6 201.6,1084.8 201.6,1077.1" fill="#000000"/>
<polygon points="260.5,1010.2 267.1,1014.1 267.1,1021.7 260.5,1025.6 253.8,1021.7 253.8,1014.1" fill="#000000"/>
<polygon points="292.3,974.4 298.9,978.2 298.9,985.9 292.3,989.7 285.7,985.9 285.7,978.2" fill="#000000"/>
<polygon points="357.8,907.5 364.5,911.4 364.5,919.0 357.8,922.9 351.2,919.0 351.2,911.4" fill="#000000"/>
<polygon points="433.8,838.8 440.5,842.6 440.5,850.3 433.8,854.1 427.2,850.3 427.2,842.6" fill="#000000"/>
<polygon points="484.7,798.0 491.4,801.8 491.4,809.5 484.7,813.3 478.1,809.5 478.1,801.8" fill="#000000"/>
<polygon points="534.2,763.4 540.8,767.2 540.8,774.9 534.2,778.7 527.5,774.9 527.5,767.2" fill="#000000"/>
<polygon points="628.4,712.7 635.1,716.5 635.1,724.2 628.4,728.0 621.8,724.2 621.8,716.5" fill="#000000"/>
<polygon points="771.1,699.3 777.8,703.1 777.8,710.8 771.1,714.6 764.5,710.8 764.5,703.1" fill="#000000"/>
<polyline points="128.8,1049.5 148.7,1047.7 159.6,1046.6 186.8,1043.5 222.3,1038.6 245.8,1035.0 294.9,1028.7 352.4,1018.3 394.0,1009.6 435.4,1000.6 515.4,982.6 636.9,951.8" fill="none" stroke="#800080" stroke-width="1.6" stroke-linejoin="round"/>
<rect x="123.4" y="1044.1" width="10.8" height="10.8" fill="#fff" stroke="#800080" stroke-width="1.8"/>
<rect x="143.3" y="1042.3" width="10.8" height="10.8" fill="#fff" stroke="#800080" stroke-width="1.8"/>
<rect x="154.2" y="1041.3" width="10.8" height="10.8" fill="#fff" stroke="#800080" stroke-width="1.8"/>
<rect x="181.5" y="1038.1" width="10.8" height="10.8" fill="#fff" stroke="#800080" stroke-width="1.8"/>
<rect x="216.9" y="1033.3" width="10.8" height="10.8" fill="#fff" stroke="#800080" stroke-width="1.8"/>
<rect x="240.5" y="1029.6" width="10.8" height="10.8" fill="#fff" stroke="#800080" stroke-width="1.8"/>
<rect x="289.5" y="1023.3" width="10.8" height="10.8" fill="#fff" stroke="#800080" stroke-width="1.8"/>
<rect x="347.0" y="1012.9" width="10.8" height="10.8" fill="#fff" stroke="#800080" stroke-width="1.8"/>
<rect x="388.6" y="1004.2" width="10.8" height="10.8" fill="#fff" stroke="#800080" stroke-width="1.8"/>
<rect x="430.1" y="995.3" width="10.8" height="10.8" fill="#fff" stroke="#800080" stroke-width="1.8"/>
<rect x="510.0" y="977.2" width="10.8" height="10.8" fill="#fff" stroke="#800080" stroke-width="1.8"/>
<rect x="631.5" y="946.5" width="10.8" height="10.8" fill="#fff" stroke="#800080" stroke-width="1.8"/>
<polyline points="128.8,1049.5 156.0,1047.0 167.7,1045.9 197.1,1042.2 235.5,1036.5 259.9,1032.7 312.6,1025.3 372.6,1013.7 415.2,1004.4 457.2,995.0 536.2,976.6 656.7,945.1" fill="none" stroke="#000080" stroke-width="1.6" stroke-linejoin="round"/>
<circle cx="128.8" cy="1049.5" r="5.9" fill="#fff" stroke="#000080" stroke-width="1.8"/>
<circle cx="156.0" cy="1047.0" r="5.9" fill="#fff" stroke="#000080" stroke-width="1.8"/>
<circle cx="167.7" cy="1045.9" r="5.9" fill="#fff" stroke="#000080" stroke-width="1.8"/>
<circle cx="197.1" cy="1042.2" r="5.9" fill="#fff" stroke="#000080" stroke-width="1.8"/>
<circle cx="235.5" cy="1036.5" r="5.9" fill="#fff" stroke="#000080" stroke-width="1.8"/>
<circle cx="259.9" cy="1032.7" r="5.9" fill="#fff" stroke="#000080" stroke-width="1.8"/>
<circle cx="312.6" cy="1025.3" r="5.9" fill="#fff" stroke="#000080" stroke-width="1.8"/>
<circle cx="372.6" cy="1013.7" r="5.9" fill="#fff" stroke="#000080" stroke-width="1.8"/>
<circle cx="415.2" cy="1004.4" r="5.9" fill="#fff" stroke="#000080" stroke-width="1.8"/>
<circle cx="457.2" cy="995.0" r="5.9" fill="#fff" stroke="#000080" stroke-width="1.8"/>
<circle cx="536.2" cy="976.6" r="5.9" fill="#fff" stroke="#000080" stroke-width="1.8"/>
<circle cx="656.7" cy="945.1" r="5.9" fill="#fff" stroke="#000080" stroke-width="1.8"/>
<polyline points="128.8,1049.5 154.7,1047.1 166.3,1046.0 196.7,1042.2 236.2,1036.4 260.5,1032.5 316.5,1024.5 378.8,1012.3 422.8,1002.6 464.8,993.1 548.4,973.0 670.3,941.1" fill="none" stroke="#0000FF" stroke-width="1.6" stroke-linejoin="round"/>
<polygon points="128.8,1041.9 135.5,1053.8 122.1,1053.8" fill="#fff" stroke="#0000FF" stroke-width="1.8"/>
<polygon points="154.7,1039.5 161.4,1051.4 148.1,1051.4" fill="#fff" stroke="#0000FF" stroke-width="1.8"/>
<polygon points="166.3,1038.4 173.0,1050.3 159.6,1050.3" fill="#fff" stroke="#0000FF" stroke-width="1.8"/>
<polygon points="196.7,1034.7 203.3,1046.6 190.0,1046.6" fill="#fff" stroke="#0000FF" stroke-width="1.8"/>
<polygon points="236.2,1028.8 242.8,1040.7 229.5,1040.7" fill="#fff" stroke="#0000FF" stroke-width="1.8"/>
<polygon points="260.5,1025.0 267.1,1036.9 253.8,1036.9" fill="#fff" stroke="#0000FF" stroke-width="1.8"/>
<polygon points="316.5,1016.9 323.1,1028.8 309.8,1028.8" fill="#fff" stroke="#0000FF" stroke-width="1.8"/>
<polygon points="378.8,1004.7 385.4,1016.6 372.1,1016.6" fill="#fff" stroke="#0000FF" stroke-width="1.8"/>
<polygon points="422.8,995.0 429.5,1006.9 416.2,1006.9" fill="#fff" stroke="#0000FF" stroke-width="1.8"/>
<polygon points="464.8,985.5 471.5,997.4 458.2,997.4" fill="#fff" stroke="#0000FF" stroke-width="1.8"/>
<polygon points="548.4,965.5 555.1,977.4 541.8,977.4" fill="#fff" stroke="#0000FF" stroke-width="1.8"/>
<polygon points="670.3,933.5 676.9,945.4 663.6,945.4" fill="#fff" stroke="#0000FF" stroke-width="1.8"/>
<polyline points="128.8,1049.5 157.5,1046.8 170.0,1045.7 204.4,1041.3 250.3,1034.4 277.0,1031.0 334.3,1021.8 402.5,1008.2 449.0,998.2 492.9,988.6 575.8,968.8 702.2,937.9" fill="none" stroke="#008000" stroke-width="1.6" stroke-linejoin="round"/>
<polygon points="128.8,1057.1 135.5,1045.2 122.1,1045.2" fill="#fff" stroke="#008000" stroke-width="1.8"/>
<polygon points="157.5,1054.4 164.2,1042.5 150.9,1042.5" fill="#fff" stroke="#008000" stroke-width="1.8"/>
<polygon points="170.0,1053.2 176.6,1041.3 163.3,1041.3" fill="#fff" stroke="#008000" stroke-width="1.8"/>
<polygon points="204.4,1048.9 211.0,1037.0 197.7,1037.0" fill="#fff" stroke="#008000" stroke-width="1.8"/>
<polygon points="250.3,1041.9 256.9,1030.0 243.6,1030.0" fill="#fff" stroke="#008000" stroke-width="1.8"/>
<polygon points="277.0,1038.6 283.6,1026.7 270.3,1026.7" fill="#fff" stroke="#008000" stroke-width="1.8"/>
<polygon points="334.3,1029.4 341.0,1017.5 327.7,1017.5" fill="#fff" stroke="#008000" stroke-width="1.8"/>
<polygon points="402.5,1015.8 409.1,1003.9 395.8,1003.9" fill="#fff" stroke="#008000" stroke-width="1.8"/>
<polygon points="449.0,1005.8 455.7,993.9 442.4,993.9" fill="#fff" stroke="#008000" stroke-width="1.8"/>
<polygon points="492.9,996.1 499.6,984.2 486.2,984.2" fill="#fff" stroke="#008000" stroke-width="1.8"/>
<polygon points="575.8,976.4 582.5,964.5 569.2,964.5" fill="#fff" stroke="#008000" stroke-width="1.8"/>
<polygon points="702.2,945.5 708.8,933.6 695.5,933.6" fill="#fff" stroke="#008000" stroke-width="1.8"/>
<polyline points="128.8,1049.5 157.2,1046.9 171.8,1045.4 208.2,1040.9 255.4,1033.6 283.3,1030.4 344.8,1020.1 414.0,1006.0 460.3,996.1 506.9,985.8 592.8,965.1 721.9,934.2" fill="none" stroke="#FF8000" stroke-width="1.6" stroke-linejoin="round"/>
<polygon points="128.8,1042.4 135.5,1049.5 128.8,1056.6 122.1,1049.5" fill="#fff" stroke="#FF8000" stroke-width="1.8"/>
<polygon points="157.2,1039.8 163.9,1046.9 157.2,1053.9 150.6,1046.9" fill="#fff" stroke="#FF8000" stroke-width="1.8"/>
<polygon points="171.8,1038.4 178.4,1045.4 171.8,1052.5 165.1,1045.4" fill="#fff" stroke="#FF8000" stroke-width="1.8"/>
<polygon points="208.2,1033.8 214.9,1040.9 208.2,1047.9 201.6,1040.9" fill="#fff" stroke="#FF8000" stroke-width="1.8"/>
<polygon points="255.4,1026.6 262.0,1033.6 255.4,1040.7 248.7,1033.6" fill="#fff" stroke="#FF8000" stroke-width="1.8"/>
<polygon points="283.3,1023.3 290.0,1030.4 283.3,1037.4 276.7,1030.4" fill="#fff" stroke="#FF8000" stroke-width="1.8"/>
<polygon points="344.8,1013.0 351.5,1020.1 344.8,1027.1 338.2,1020.1" fill="#fff" stroke="#FF8000" stroke-width="1.8"/>
<polygon points="414.0,999.0 420.6,1006.0 414.0,1013.1 407.3,1006.0" fill="#fff" stroke="#FF8000" stroke-width="1.8"/>
<polygon points="460.3,989.0 467.0,996.1 460.3,1003.1 453.7,996.1" fill="#fff" stroke="#FF8000" stroke-width="1.8"/>
<polygon points="506.9,978.8 513.5,985.8 506.9,992.9 500.2,985.8" fill="#fff" stroke="#FF8000" stroke-width="1.8"/>
<polygon points="592.8,958.1 599.4,965.1 592.8,972.2 586.1,965.1" fill="#fff" stroke="#FF8000" stroke-width="1.8"/>
<polygon points="721.9,927.1 728.5,934.2 721.9,941.3 715.2,934.2" fill="#fff" stroke="#FF8000" stroke-width="1.8"/>
<polyline points="128.8,1049.5 158.5,1046.8 173.2,1045.3 212.0,1040.3 261.7,1032.7 290.5,1029.6 354.0,1018.6 425.4,1003.8 473.8,993.4 521.0,983.0 608.0,961.8 740.6,930.6" fill="none" stroke="#FF0000" stroke-width="1.6" stroke-linejoin="round"/>
<polygon points="136.4,1049.5 124.5,1056.4 124.5,1042.6" fill="#fff" stroke="#FF0000" stroke-width="1.8"/>
<polygon points="166.1,1046.8 154.2,1053.6 154.2,1039.9" fill="#fff" stroke="#FF0000" stroke-width="1.8"/>
<polygon points="180.8,1045.3 168.9,1052.1 168.9,1038.4" fill="#fff" stroke="#FF0000" stroke-width="1.8"/>
<polygon points="219.6,1040.3 207.7,1047.2 207.7,1033.5" fill="#fff" stroke="#FF0000" stroke-width="1.8"/>
<polygon points="269.3,1032.7 257.4,1039.6 257.4,1025.9" fill="#fff" stroke="#FF0000" stroke-width="1.8"/>
<polygon points="298.0,1029.6 286.1,1036.5 286.1,1022.8" fill="#fff" stroke="#FF0000" stroke-width="1.8"/>
<polygon points="361.6,1018.6 349.7,1025.4 349.7,1011.7" fill="#fff" stroke="#FF0000" stroke-width="1.8"/>
<polygon points="433.0,1003.8 421.1,1010.6 421.1,996.9" fill="#fff" stroke="#FF0000" stroke-width="1.8"/>
<polygon points="481.4,993.4 469.5,1000.2 469.5,986.5" fill="#fff" stroke="#FF0000" stroke-width="1.8"/>
<polygon points="528.5,983.0 516.6,989.8 516.6,976.1" fill="#fff" stroke="#FF0000" stroke-width="1.8"/>
<polygon points="615.6,961.8 603.7,968.6 603.7,954.9" fill="#fff" stroke="#FF0000" stroke-width="1.8"/>
<polygon points="748.1,930.6 736.2,937.4 736.2,923.7" fill="#fff" stroke="#FF0000" stroke-width="1.8"/>
<polyline points="128.8,1049.5 153.4,1047.2 167.5,1045.9 204.4,1041.4 255.4,1033.6 284.7,1030.2 347.6,1019.5 420.3,1004.6 470.0,993.8 519.7,982.8 613.1,959.8 754.1,926.2" fill="none" stroke="#808080" stroke-width="1.6" stroke-linejoin="round"/>
<polygon points="128.8,1043.5 135.1,1048.0 132.7,1055.5 124.9,1055.5 122.5,1048.0" fill="#fff" stroke="#808080" stroke-width="1.8"/>
<polygon points="153.4,1041.2 159.7,1045.8 157.3,1053.2 149.5,1053.2 147.1,1045.8" fill="#fff" stroke="#808080" stroke-width="1.8"/>
<polygon points="167.5,1039.9 173.8,1044.5 171.4,1051.9 163.5,1051.9 161.1,1044.5" fill="#fff" stroke="#808080" stroke-width="1.8"/>
<polygon points="204.4,1035.3 210.7,1039.9 208.3,1047.3 200.5,1047.3 198.1,1039.9" fill="#fff" stroke="#808080" stroke-width="1.8"/>
<polygon points="255.4,1027.6 261.7,1032.2 259.3,1039.6 251.5,1039.6 249.0,1032.2" fill="#fff" stroke="#808080" stroke-width="1.8"/>
<polygon points="284.7,1024.1 291.0,1028.7 288.6,1036.2 280.8,1036.2 278.4,1028.7" fill="#fff" stroke="#808080" stroke-width="1.8"/>
<polygon points="347.6,1013.5 354.0,1018.1 351.5,1025.5 343.7,1025.5 341.3,1018.1" fill="#fff" stroke="#808080" stroke-width="1.8"/>
<polygon points="420.3,998.5 426.6,1003.1 424.2,1010.6 416.4,1010.6 414.0,1003.1" fill="#fff" stroke="#808080" stroke-width="1.8"/>
<polygon points="470.0,987.8 476.3,992.4 473.9,999.8 466.0,999.8 463.6,992.4" fill="#fff" stroke="#808080" stroke-width="1.8"/>
<polygon points="519.7,976.7 526.0,981.3 523.6,988.8 515.8,988.8 513.4,981.3" fill="#fff" stroke="#808080" stroke-width="1.8"/>
<polygon points="613.1,953.7 619.4,958.3 617.0,965.8 609.2,965.8 606.8,958.3" fill="#fff" stroke="#808080" stroke-width="1.8"/>
<polygon points="754.1,920.1 760.5,924.7 758.1,932.1 750.2,932.1 747.8,924.7" fill="#fff" stroke="#808080" stroke-width="1.8"/>
<polyline points="128.8,1049.5 154.7,1047.1 168.7,1045.8 208.2,1040.9 260.5,1032.9 292.3,1029.5 357.8,1018.0 433.8,1002.3 484.7,991.4 534.2,980.5 628.4,957.4 771.1,924.6" fill="none" stroke="#000000" stroke-width="1.6" stroke-linejoin="round"/>
<polygon points="128.8,1042.9 134.5,1046.2 134.5,1052.8 128.8,1056.1 123.1,1052.8 123.1,1046.2" fill="#fff" stroke="#000000" stroke-width="1.8"/>
<polygon points="154.7,1040.6 160.4,1043.8 160.4,1050.4 154.7,1053.7 149.1,1050.4 149.1,1043.8" fill="#fff" stroke="#000000" stroke-width="1.8"/>
<polygon points="168.7,1039.3 174.4,1042.5 174.4,1049.1 168.7,1052.4 163.0,1049.1 163.0,1042.5" fill="#fff" stroke="#000000" stroke-width="1.8"/>
<polygon points="208.2,1034.4 213.9,1037.6 213.9,1044.2 208.2,1047.5 202.6,1044.2 202.6,1037.6" fill="#fff" stroke="#000000" stroke-width="1.8"/>
<polygon points="260.5,1026.4 266.2,1029.7 266.2,1036.2 260.5,1039.5 254.8,1036.2 254.8,1029.7" fill="#fff" stroke="#000000" stroke-width="1.8"/>
<polygon points="292.3,1023.0 298.0,1026.2 298.0,1032.8 292.3,1036.1 286.6,1032.8 286.6,1026.2" fill="#fff" stroke="#000000" stroke-width="1.8"/>
<polygon points="357.8,1011.5 363.5,1014.7 363.5,1021.3 357.8,1024.6 352.2,1021.3 352.2,1014.7" fill="#fff" stroke="#000000" stroke-width="1.8"/>
<polygon points="433.8,995.7 439.5,999.0 439.5,1005.6 433.8,1008.8 428.1,1005.6 428.1,999.0" fill="#fff" stroke="#000000" stroke-width="1.8"/>
<polygon points="484.7,984.8 490.4,988.1 490.4,994.6 484.7,997.9 479.0,994.6 479.0,988.1" fill="#fff" stroke="#000000" stroke-width="1.8"/>
<polygon points="534.2,973.9 539.8,977.2 539.8,983.8 534.2,987.1 528.5,983.8 528.5,977.2" fill="#fff" stroke="#000000" stroke-width="1.8"/>
<polygon points="628.4,950.8 634.1,954.1 634.1,960.7 628.4,963.9 622.8,960.7 622.8,954.1" fill="#fff" stroke="#000000" stroke-width="1.8"/>
<polygon points="771.1,918.0 776.8,921.3 776.8,927.8 771.1,931.1 765.4,927.8 765.4,921.3" fill="#fff" stroke="#000000" stroke-width="1.8"/>
</g>
<rect x="100.9" y="17.1" width="708.3" height="529.5" fill="none" stroke="#000" stroke-width="2.3"/>
<path d="M100.9,546.6v-8M100.9,17.1v8M159.9,546.6v-4.5M159.9,17.1v4.5M219.0,546.6v-8M219.0,17.1v8M278.0,546.6v-4.5M278.0,17.1v4.5M337.0,546.6v-8M337.0,17.1v8M396.0,546.6v-4.5M396.0,17.1v4.5M455.1,546.6v-8M455.1,17.1v8M514.1,546.6v-4.5M514.1,17.1v4.5M573.1,546.6v-8M573.1,17.1v8M632.1,546.6v-4.5M632.1,17.1v4.5M691.2,546.6v-8M691.2,17.1v8M750.2,546.6v-4.5M750.2,17.1v4.5M809.2,546.6v-8M809.2,17.1v8M100.9,546.6h4.5M100.9,505.9h8M100.9,465.1h4.5M100.9,424.4h8M100.9,383.7h4.5M100.9,342.9h8M100.9,302.2h4.5M100.9,261.5h8M100.9,220.8h4.5M100.9,180.0h8M100.9,139.3h4.5M100.9,98.6h8M100.9,57.8h4.5M100.9,17.1h8M809.2,546.6h-8M809.2,513.5h-4.5M809.2,480.4h-8M809.2,447.3h-4.5M809.2,414.2h-8M809.2,381.1h-4.5M809.2,348.0h-8M809.2,314.9h-4.5M809.2,281.8h-8M809.2,248.8h-4.5M809.2,215.7h-8M809.2,182.6h-4.5M809.2,149.5h-8M809.2,116.4h-4.5M809.2,83.3h-8M809.2,50.2h-4.5M809.2,17.1h-8" stroke="#000" stroke-width="2" fill="none"/>
<text x="91.00" y="512.27" font-size="21.7" text-anchor="end" textLength="33.50" lengthAdjust="spacingAndGlyphs">0.4</text>
<text x="91.00" y="430.81" font-size="21.7" text-anchor="end" textLength="33.50" lengthAdjust="spacingAndGlyphs">0.5</text>
<text x="91.00" y="349.35" font-size="21.7" text-anchor="end" textLength="33.50" lengthAdjust="spacingAndGlyphs">0.6</text>
<text x="91.00" y="267.88" font-size="21.7" text-anchor="end" textLength="33.50" lengthAdjust="spacingAndGlyphs">0.7</text>
<text x="91.00" y="186.42" font-size="21.7" text-anchor="end" textLength="33.50" lengthAdjust="spacingAndGlyphs">0.8</text>
<text x="91.00" y="104.96" font-size="21.7" text-anchor="end" textLength="33.50" lengthAdjust="spacingAndGlyphs">0.9</text>
<text x="91.00" y="23.50" font-size="21.7" text-anchor="end" textLength="33.50" lengthAdjust="spacingAndGlyphs">1.0</text>
<text x="819.00" y="553.00" font-size="21.7" text-anchor="start" textLength="33.50" lengthAdjust="spacingAndGlyphs">0.2</text>
<text x="819.00" y="486.81" font-size="21.7" text-anchor="start" textLength="33.50" lengthAdjust="spacingAndGlyphs">0.3</text>
<text x="819.00" y="420.62" font-size="21.7" text-anchor="start" textLength="33.50" lengthAdjust="spacingAndGlyphs">0.4</text>
<text x="819.00" y="354.44" font-size="21.7" text-anchor="start" textLength="33.50" lengthAdjust="spacingAndGlyphs">0.5</text>
<text x="819.00" y="288.25" font-size="21.7" text-anchor="start" textLength="33.50" lengthAdjust="spacingAndGlyphs">0.6</text>
<text x="819.00" y="222.06" font-size="21.7" text-anchor="start" textLength="33.50" lengthAdjust="spacingAndGlyphs">0.7</text>
<text x="819.00" y="155.87" font-size="21.7" text-anchor="start" textLength="33.50" lengthAdjust="spacingAndGlyphs">0.8</text>
<text x="819.00" y="89.69" font-size="21.7" text-anchor="start" textLength="33.50" lengthAdjust="spacingAndGlyphs">0.9</text>
<text x="819.00" y="23.50" font-size="21.7" text-anchor="start" textLength="33.50" lengthAdjust="spacingAndGlyphs">1.0</text>
<text x="100.90" y="575.00" font-size="21.7" text-anchor="middle" textLength="33.50" lengthAdjust="spacingAndGlyphs">0.0</text>
<text x="218.95" y="575.00" font-size="21.7" text-anchor="middle" textLength="33.50" lengthAdjust="spacingAndGlyphs">0.1</text>
<text x="337.00" y="575.00" font-size="21.7" text-anchor="middle" textLength="33.50" lengthAdjust="spacingAndGlyphs">0.2</text>
<text x="455.05" y="575.00" font-size="21.7" text-anchor="middle" textLength="33.50" lengthAdjust="spacingAndGlyphs">0.3</text>
<text x="573.10" y="575.00" font-size="21.7" text-anchor="middle" textLength="33.50" lengthAdjust="spacingAndGlyphs">0.4</text>
<text x="691.15" y="575.00" font-size="21.7" text-anchor="middle" textLength="33.50" lengthAdjust="spacingAndGlyphs">0.5</text>
<text x="809.20" y="575.00" font-size="21.7" text-anchor="middle" textLength="33.50" lengthAdjust="spacingAndGlyphs">0.6</text>
<text x="326.60" y="620.00" font-size="24.11" textLength="234.64" lengthAdjust="spacingAndGlyphs">Current Density (A cm</text>
<text x="561.90" y="605.70" font-size="13.52" textLength="13.55" lengthAdjust="spacingAndGlyphs">-2</text>
<text x="575.30" y="620.40" font-size="23.68">)</text>
<text transform="translate(49.40,382.50) rotate(-90)" font-size="22.07" textLength="169.37" lengthAdjust="spacingAndGlyphs">Cell Voltage (V)</text>
<text transform="translate(888.50,432.40) rotate(-90)" font-size="23.51" textLength="224.07" lengthAdjust="spacingAndGlyphs">Resistance (Ohm cm</text>
<text transform="translate(874.40,208.30) rotate(-90)" font-size="14.41">2</text>
<text transform="translate(888.50,199.60) rotate(-90)" font-size="23.51">)</text>
<text x="2.70" y="32.50" font-size="37.13" style="font-family:'Liberation Serif',serif" textLength="41.29" lengthAdjust="spacingAndGlyphs">(a)</text>
<path d="M577.5,67.4H596.5M611.8,67.4H631.7" stroke="#800080" stroke-width="1.6"/>
<rect x="599.1" y="62.2" width="10.5" height="10.5" fill="#800080"/>
<text x="637.50" y="76.00" font-size="23.09" textLength="89.78" lengthAdjust="spacingAndGlyphs">22% RH</text>
<path d="M577.5,96.7H596.5M611.8,96.7H631.7" stroke="#000080" stroke-width="1.6"/>
<circle cx="604.4" cy="96.7" r="5.8" fill="#000080"/>
<text x="637.50" y="105.27" font-size="23.09" textLength="89.78" lengthAdjust="spacingAndGlyphs">30% RH</text>
<path d="M577.5,125.9H596.5M611.8,125.9H631.7" stroke="#0000FF" stroke-width="1.6"/>
<polygon points="604.4,118.4 611.0,130.2 597.8,130.2" fill="#0000FF"/>
<text x="637.50" y="134.54" font-size="23.09" textLength="89.78" lengthAdjust="spacingAndGlyphs">40% RH</text>
<path d="M577.5,155.2H596.5M611.8,155.2H631.7" stroke="#008000" stroke-width="1.6"/>
<polygon points="604.4,162.7 611.0,150.9 597.8,150.9" fill="#008000"/>
<text x="637.50" y="163.81" font-size="23.09" textLength="89.78" lengthAdjust="spacingAndGlyphs">50% RH</text>
<path d="M577.5,184.5H596.5M611.8,184.5H631.7" stroke="#FF8000" stroke-width="1.6"/>
<polygon points="604.4,177.5 611.0,184.5 604.4,191.5 597.8,184.5" fill="#FF8000"/>
<text x="637.50" y="193.08" font-size="23.09" textLength="89.78" lengthAdjust="spacingAndGlyphs">60% RH</text>
<path d="M577.5,213.8H596.5M611.8,213.8H631.7" stroke="#FF0000" stroke-width="1.6"/>
<polygon points="611.9,213.8 600.1,220.6 600.1,206.9" fill="#FF0000"/>
<text x="637.50" y="222.35" font-size="23.09" textLength="89.78" lengthAdjust="spacingAndGlyphs">70% RH</text>
<path d="M577.5,243.0H596.5M611.8,243.0H631.7" stroke="#808080" stroke-width="1.6"/>
<polygon points="604.4,237.0 610.7,241.6 608.3,249.0 600.5,249.0 598.1,241.6" fill="#808080"/>
<text x="637.50" y="251.62" font-size="23.09" textLength="89.78" lengthAdjust="spacingAndGlyphs">80% RH</text>
<path d="M577.5,272.3H596.5M611.8,272.3H631.7" stroke="#000000" stroke-width="1.6"/>
<polygon points="604.4,265.8 610.0,269.0 610.0,275.5 604.4,278.8 598.8,275.5 598.8,269.0" fill="#000000"/>
<text x="637.50" y="280.89" font-size="23.09" textLength="89.78" lengthAdjust="spacingAndGlyphs">90% RH</text>
<path d="M210.6,215.1L221.1,204.9L221.1,209.8L308.6,209.8L308.6,220.4L221.1,220.4L221.1,225.4Z" fill="#000"/>
<path d="M720,411L780.6,411L780.6,406L790.5,416.3L780.6,426.8L780.6,421.7L720,421.7Z" fill="#fff" stroke="#000" stroke-width="1.8" stroke-linejoin="miter"/>
<rect x="100.1" y="654.9" width="711.5" height="537.0" fill="none" stroke="#000" stroke-width="2.3"/>
<path d="M128.8,1191.9v-8M128.8,654.9v8M185.7,1191.9v-4.5M185.7,654.9v4.5M242.6,1191.9v-8M242.6,654.9v8M299.5,1191.9v-4.5M299.5,654.9v4.5M356.4,1191.9v-8M356.4,654.9v8M413.3,1191.9v-4.5M413.3,654.9v4.5M470.2,1191.9v-8M470.2,654.9v8M527.1,1191.9v-4.5M527.1,654.9v4.5M584.0,1191.9v-8M584.0,654.9v8M640.9,1191.9v-4.5M640.9,654.9v4.5M697.8,1191.9v-8M697.8,654.9v8M754.7,1191.9v-4.5M754.7,654.9v4.5M811.6,1191.9v-8M811.6,654.9v8M100.1,1191.9h8M100.1,1138.2h4.5M100.1,1084.5h8M100.1,1030.8h4.5M100.1,977.1h8M100.1,923.4h4.5M100.1,869.7h8M100.1,816.0h4.5M100.1,762.3h8M100.1,708.6h4.5M100.1,654.9h8M811.6,1191.9h-8M811.6,1138.2h-4.5M811.6,1084.5h-8M811.6,1030.8h-4.5M811.6,977.1h-8M811.6,923.4h-4.5M811.6,869.7h-8M811.6,816.0h-4.5M811.6,762.3h-8M811.6,708.6h-4.5M811.6,654.9h-8" stroke="#000" stroke-width="2" fill="none"/>
<text x="89.20" y="1199.10" font-size="25.7" text-anchor="end" textLength="37.00" lengthAdjust="spacingAndGlyphs">0.0</text>
<text x="89.20" y="1091.70" font-size="25.7" text-anchor="end" textLength="37.00" lengthAdjust="spacingAndGlyphs">0.5</text>
<text x="89.20" y="984.30" font-size="25.7" text-anchor="end" textLength="37.00" lengthAdjust="spacingAndGlyphs">1.0</text>
<text x="89.20" y="876.90" font-size="25.7" text-anchor="end" textLength="37.00" lengthAdjust="spacingAndGlyphs">1.5</text>
<text x="89.20" y="769.50" font-size="25.7" text-anchor="end" textLength="37.00" lengthAdjust="spacingAndGlyphs">2.0</text>
<text x="89.20" y="662.10" font-size="25.7" text-anchor="end" textLength="37.00" lengthAdjust="spacingAndGlyphs">2.5</text>
<text x="823.10" y="1199.10" font-size="25.7" text-anchor="start" textLength="14.47" lengthAdjust="spacingAndGlyphs">0</text>
<text x="823.10" y="1091.70" font-size="25.7" text-anchor="start" textLength="28.93" lengthAdjust="spacingAndGlyphs">20</text>
<text x="823.10" y="984.30" font-size="25.7" text-anchor="start" textLength="28.93" lengthAdjust="spacingAndGlyphs">40</text>
<text x="823.10" y="876.90" font-size="25.7" text-anchor="start" textLength="28.93" lengthAdjust="spacingAndGlyphs">60</text>
<text x="823.10" y="769.50" font-size="25.7" text-anchor="start" textLength="28.93" lengthAdjust="spacingAndGlyphs">80</text>
<text x="823.10" y="662.10" font-size="25.7" text-anchor="start" textLength="43.40" lengthAdjust="spacingAndGlyphs">100</text>
<text x="128.80" y="1223.60" font-size="25.7" text-anchor="middle" textLength="37.00" lengthAdjust="spacingAndGlyphs">0.0</text>
<text x="242.60" y="1223.60" font-size="25.7" text-anchor="middle" textLength="37.00" lengthAdjust="spacingAndGlyphs">0.1</text>
<text x="356.40" y="1223.60" font-size="25.7" text-anchor="middle" textLength="37.00" lengthAdjust="spacingAndGlyphs">0.2</text>
<text x="470.20" y="1223.60" font-size="25.7" text-anchor="middle" textLength="37.00" lengthAdjust="spacingAndGlyphs">0.3</text>
<text x="584.00" y="1223.60" font-size="25.7" text-anchor="middle" textLength="37.00" lengthAdjust="spacingAndGlyphs">0.4</text>
<text x="697.80" y="1223.60" font-size="25.7" text-anchor="middle" textLength="37.00" lengthAdjust="spacingAndGlyphs">0.5</text>
<text x="811.60" y="1223.60" font-size="25.7" text-anchor="middle" textLength="37.00" lengthAdjust="spacingAndGlyphs">0.6</text>
<text x="312.60" y="1272.70" font-size="24.79" textLength="263.31" lengthAdjust="spacingAndGlyphs">Current Density (A cm</text>
<text x="575.70" y="1259.10" font-size="14.57" textLength="14.84" lengthAdjust="spacingAndGlyphs">-2</text>
<text x="590.50" y="1273.10" font-size="25.44">)</text>
<text transform="translate(42.20,1004.30) rotate(-90)" font-size="24.80" textLength="125.52" lengthAdjust="spacingAndGlyphs">Power (W)</text>
<text transform="translate(898.90,1073.60) rotate(-90)" font-size="25.18" textLength="263.96" lengthAdjust="spacingAndGlyphs">Cell Temperature (°C)</text>
<text x="-0.10" y="663.30" font-size="36.24" style="font-family:'Liberation Serif',serif" textLength="43.49" lengthAdjust="spacingAndGlyphs">(b)</text>
<path d="M338.2,786.9L349.2,776.6L349.2,781.9L436.4,781.9L436.4,791.8L349.2,791.8L349.2,797.8Z" fill="#000"/>
<path d="M696,957.4L756,957.4L756,952L767,962.7L756,973.7L756,968L696,968Z" fill="#fff" stroke="#000" stroke-width="1.8"/>
</svg></body></html>
